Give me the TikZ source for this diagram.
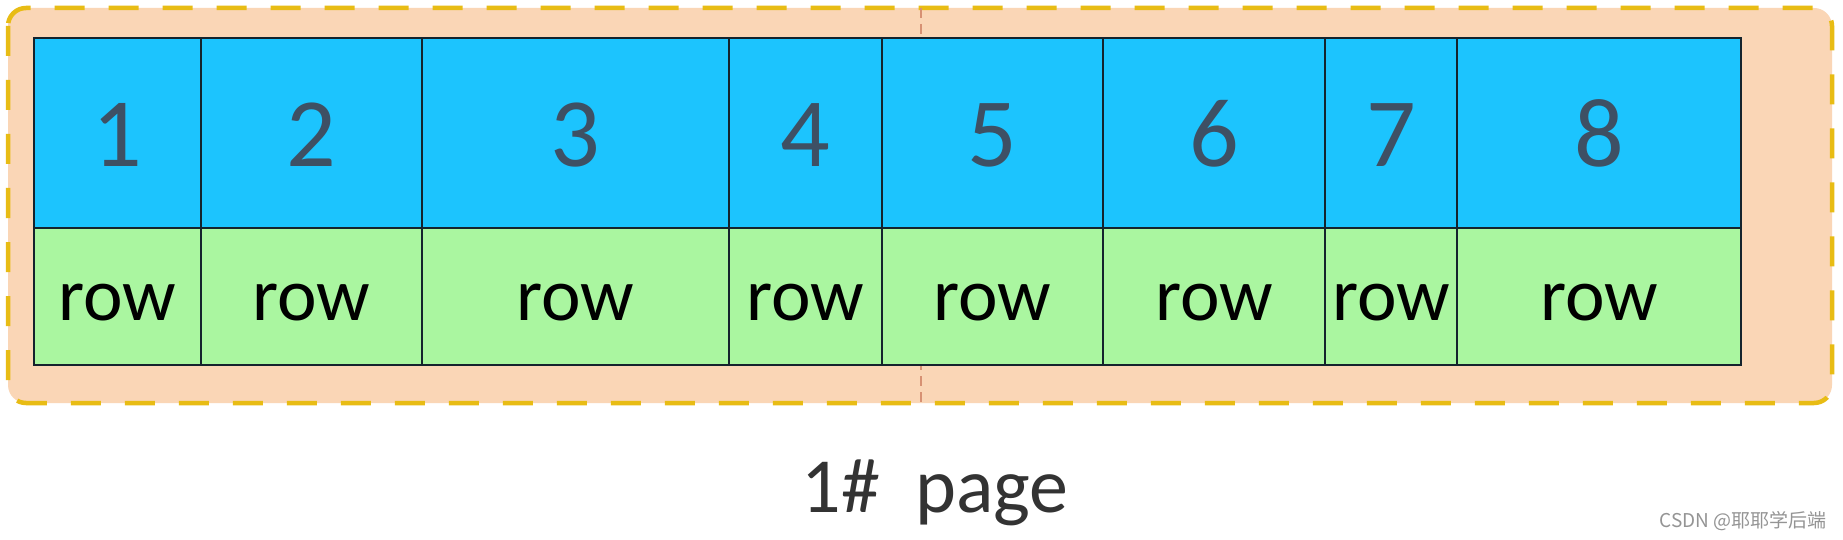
\documentclass[tikz,border=0pt]{standalone}
\usepackage{fontspec}
\setmainfont{Carlito}
\newfontfamily\cjk{Noto Sans CJK SC}
\definecolor{cellblue}{RGB}{28,196,254}
\definecolor{cellgreen}{RGB}{170,246,160}
\definecolor{pagefill}{RGB}{250,214,182}
\definecolor{pageborder}{RGB}{232,188,20}
\definecolor{gridline}{RGB}{20,35,45}
\definecolor{digitcol}{RGB}{62,80,100}
\definecolor{seamcol}{RGB}{215,145,115}
\begin{document}
\begin{tikzpicture}[x=1pt,y=-1pt,
  pagebox/.style={fill=pagefill,draw=pageborder,line width=4.5pt,dash pattern=on 30pt off 24pt,rounded corners=18pt},
  topcell/.style={rectangle,fill=cellblue,draw=gridline,line width=2.8pt,inner sep=0pt,minimum height=190pt,text height=68pt,text depth=0pt,text=digitcol,font=\fontsize{98}{110}\selectfont},
  botcell/.style={rectangle,fill=cellgreen,draw=gridline,line width=2.8pt,inner sep=0pt,minimum height=137pt,text height=47pt,text depth=0pt,text=black,font=\fontsize{75}{85}\selectfont},
  caption/.style={text=black!80,font=\fontsize{78}{90}\selectfont,inner sep=0pt,anchor=base},
  wmark/.style={text=black!42,font=\cjk\fontsize{19}{22}\selectfont,inner sep=0pt,anchor=base east}
]
\useasboundingbox (0,0) rectangle (1843,540);
\fill[white] (0,0) rectangle (1843,540);
\draw[pagebox] (8,8) rectangle (1832,403);
\draw[seamcol,line width=1.2pt,dash pattern=on 10pt off 6pt] (921,8) -- (921,403);
\foreach \l/\r/\n [count=\i] in {34/201/1,201/422/2,422/729/3,729/882/4,882/1103/5,1103/1325/6,1325/1457/7,1457/1741/8}{
  \node[topcell,minimum width={\r-\l}] (t\i) at ({(\l+\r)/2},133) {\n};
  \node[botcell,minimum width={\r-\l}] (b\i) at ({(\l+\r)/2},296.5) {row};
}
\node[caption] (cap) at (935,512) {1\#\ \ page};
\node[wmark] (wm) at (1827,527) {CSDN @耶耶学后端};
\end{tikzpicture}
\end{document}
